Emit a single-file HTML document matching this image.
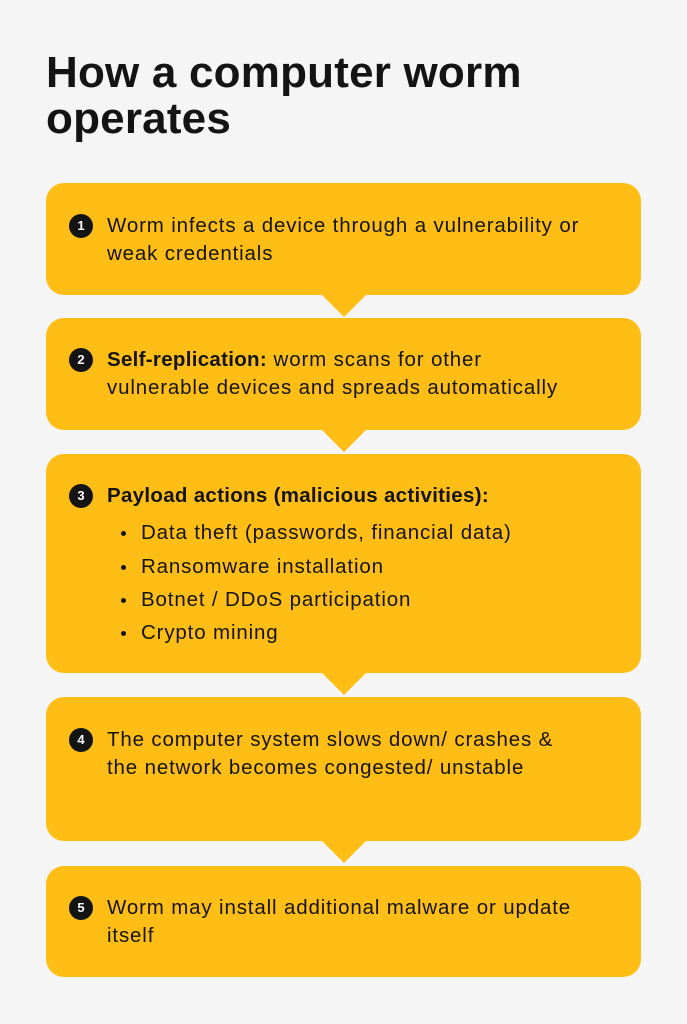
<!DOCTYPE html>
<html><head><meta charset="utf-8"><style>
body{margin:0;width:687px;height:1024px;background:#f5f5f5;position:relative;overflow:hidden;font-family:"Liberation Sans",sans-serif;color:#141414}
.t{position:absolute;left:46px;top:50px;font-size:44px;font-weight:bold;line-height:46px;letter-spacing:0.2px}
.b{position:absolute;left:46px;width:595px;background:#ffbe16;border-radius:18px}
.tri{position:absolute;left:322px;width:0;height:0;border-left:22px solid transparent;border-right:22px solid transparent;border-top:22px solid #ffbe16}
.n{position:absolute;left:69px;width:24px;height:24px;border-radius:50%;background:#141414;color:#fff;font-size:13px;font-weight:bold;text-align:center;line-height:24px}
.x{position:absolute;left:107px;font-size:20.5px;line-height:28px;width:500px;letter-spacing:0.85px}
.x b{letter-spacing:0.3px}
.li{position:absolute;left:141px;font-size:20.5px;line-height:28px;letter-spacing:0.85px}
.li:before{content:"";position:absolute;left:-20px;top:12px;width:5px;height:5px;border-radius:50%;background:#141414}
</style></head><body>
<div class="t">How a computer worm<br>operates</div>
<div class="b" style="top:183px;height:112px"></div><div class="tri" style="top:295px"></div>
<div class="b" style="top:318px;height:112px"></div><div class="tri" style="top:430px"></div>
<div class="b" style="top:454px;height:219px"></div><div class="tri" style="top:673px"></div>
<div class="b" style="top:697px;height:144px"></div><div class="tri" style="top:841px"></div>
<div class="b" style="top:866px;height:111px"></div>
<div class="n" style="top:214px">1</div>
<div class="x" style="top:212px">Worm infects a device through a vulnerability or<br>weak credentials</div>
<div class="n" style="top:348px">2</div>
<div class="x" style="top:346px"><b>Self-replication:</b> worm scans for other<br>vulnerable devices and spreads automatically</div>
<div class="n" style="top:484px">3</div>
<div class="x" style="top:482px"><b>Payload actions (malicious activities):</b></div>
<div class="li" style="top:519px">Data theft (passwords, financial data)</div>
<div class="li" style="top:553px">Ransomware installation</div>
<div class="li" style="top:586px">Botnet / DDoS participation</div>
<div class="li" style="top:619px">Crypto mining</div>
<div class="n" style="top:728px">4</div>
<div class="x" style="top:726px">The computer system slows down/ crashes &amp;<br>the network becomes congested/ unstable</div>
<div class="n" style="top:896px">5</div>
<div class="x" style="top:894px">Worm may install additional malware or update<br>itself</div>
</body></html>
